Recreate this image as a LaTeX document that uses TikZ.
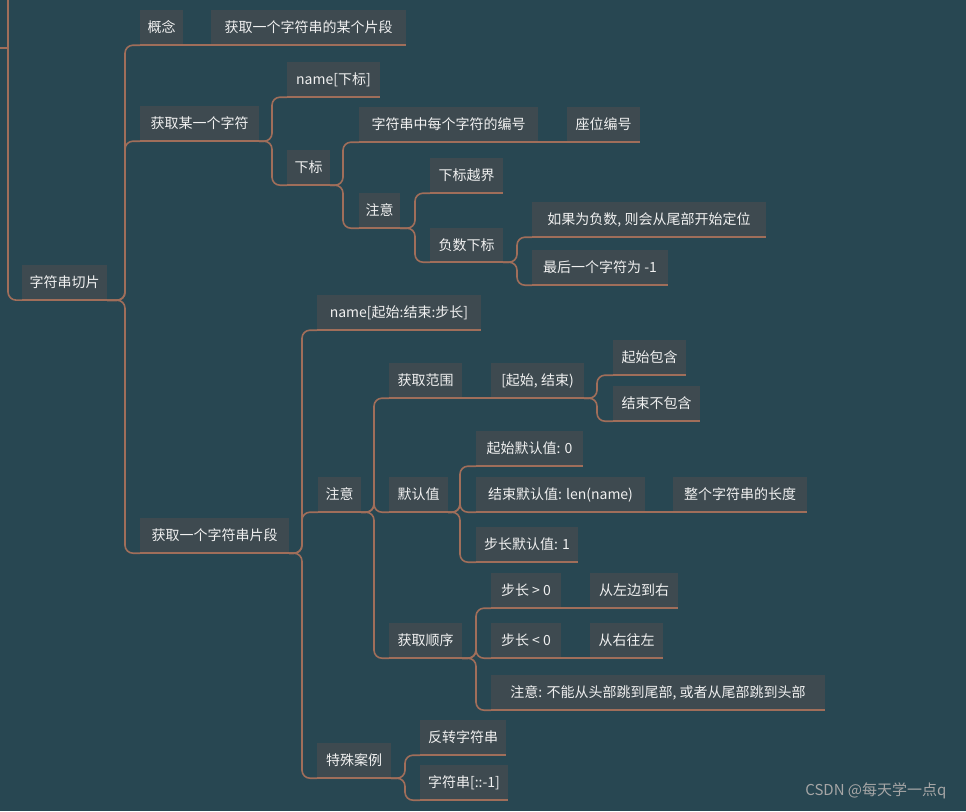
\documentclass[tikz,border=0pt]{standalone}
\usepackage{fontspec}
\setmainfont{Noto Sans CJK SC}
\usetikzlibrary{calc}
\definecolor{bg}{RGB}{40,71,82}
\definecolor{bxf}{RGB}{62,74,80}
\definecolor{lnc}{RGB}{160,110,90}
\definecolor{txt}{RGB}{240,240,240}
\tikzset{
  box/.style={fill=bxf,inner sep=0pt,text=txt,font=\fontsize{14}{16}\selectfont},
  ln/.style={draw=lnc,line width=1.6pt},
  br/.style={ln,rounded corners=8pt}
}
\newcommand\bx[6]{\node[box,minimum width={(#4-#2)*1pt},minimum height={(#5-#3)*1pt}] (#1) at ({(#2+#4)/2},{-(#3+#5)/2}) {#6};
\draw[ln] (#1.south west)--(#1.south east);}
\newcommand\conn[3]{\draw[br] let \p1=(#1.south east), \p2=(#3.south west) in (\p1) -- (#2pt,\y1) -- (#2pt,\y2) -- (\p2);}
\newcommand\lnk[2]{\draw[ln] (#1.south east)--(#2.south west);}
\begin{document}
\begin{tikzpicture}[x=1pt,y=1pt]
\fill[bg] (0,0) rectangle (966,-811);
\useasboundingbox (0,0) rectangle (966,-811);
\bx{root}{22}{265}{107}{300}{字符串切片}
\bx{gn}{140}{10}{183}{45}{概念}
\bx{gnv}{211}{10}{406}{45}{获取一个字符串的某个片段}
\bx{zf}{140}{106}{259}{141}{获取某一个字符}
\bx{nm}{287}{62}{380}{97}{name[下标]}
\bx{xb}{287}{150}{330}{185}{下标}
\bx{bh}{359}{107}{538}{142}{字符串中每个字符的编号}
\bx{zw}{567}{107}{640}{142}{座位编号}
\bx{zya}{359}{193}{400}{228}{注意}
\bx{yj}{430}{158}{503}{193}{下标越界}
\bx{fs}{430}{228}{503}{262}{负数下标}
\bx{rg}{532}{202}{766}{237}{如果为负数, 则会从尾部开始定位}
\bx{zh}{532}{250}{668}{285}{最后一个字符为 -1}
\bx{pd}{140}{518}{289}{553}{获取一个字符串片段}
\bx{sl}{317}{295}{481}{330}{name[起始:结束:步长]}
\bx{zyb}{318}{477}{361}{512}{注意}
\bx{fw}{389}{363}{462}{398}{获取范围}
\bx{qj}{491}{363}{584}{398}{[起始, 结束)}
\bx{bha}{613}{340}{686}{375}{起始包含}
\bx{bhb}{613}{386}{700}{421}{结束不包含}
\bx{mr}{389}{477}{448}{512}{默认值}
\bx{ma}{476}{431}{583}{466}{起始默认值: 0}
\bx{mb}{476}{477}{645}{512}{结束默认值: len(name)}
\bx{mbb}{673}{477}{807}{512}{整个字符串的长度}
\bx{mc}{476}{527}{578}{562}{步长默认值: 1}
\bx{sx}{389}{623}{462}{658}{获取顺序}
\bx{sa}{491}{573}{561}{608}{步长 > 0}
\bx{sab}{590}{573}{678}{608}{从左边到右}
\bx{sb}{491}{623}{561}{658}{步长 < 0}
\bx{sbb}{590}{623}{663}{658}{从右往左}
\bx{sc}{491}{675}{825}{710}{注意: 不能从头部跳到尾部, 或者从尾部跳到头部}
\bx{ts}{317}{743}{391}{778}{特殊案例}
\bx{fz}{420}{720}{506}{755}{反转字符串}
\bx{sq}{420}{765}{508}{800}{字符串[::-1]}
\coordinate (top) at (8,0);
\draw[ln] (0,-48) -- (8,-48);
\draw[br] (top) -- (8,-300) -- (root.south west);
\conn{root}{125}{gn}\conn{root}{125}{zf}\conn{root}{125}{pd}
\conn{zf}{272}{nm}\conn{zf}{272}{xb}
\conn{xb}{343}{bh}\conn{xb}{343}{zya}
\conn{zya}{415}{yj}\conn{zya}{415}{fs}
\conn{fs}{517}{rg}\conn{fs}{517}{zh}
\conn{pd}{302}{sl}\conn{pd}{302}{zyb}\conn{pd}{302}{ts}
\conn{zyb}{374}{fw}\conn{zyb}{374}{mr}\conn{zyb}{374}{sx}
\conn{qj}{597}{bha}\conn{qj}{597}{bhb}
\conn{mr}{460}{ma}\conn{mr}{460}{mb}\conn{mr}{460}{mc}
\conn{sx}{476}{sa}\conn{sx}{476}{sb}\conn{sx}{476}{sc}
\conn{ts}{405}{fz}\conn{ts}{405}{sq}
\lnk{gn}{gnv}\lnk{bh}{zw}\lnk{fw}{qj}\lnk{mb}{mbb}\lnk{sa}{sab}\lnk{sb}{sbb}
\node[text=gray!70,font=\fontsize{15}{17}\selectfont,anchor=east] (wm) at (950,-791) {CSDN @每天学一点q};
\end{tikzpicture}
\end{document}
